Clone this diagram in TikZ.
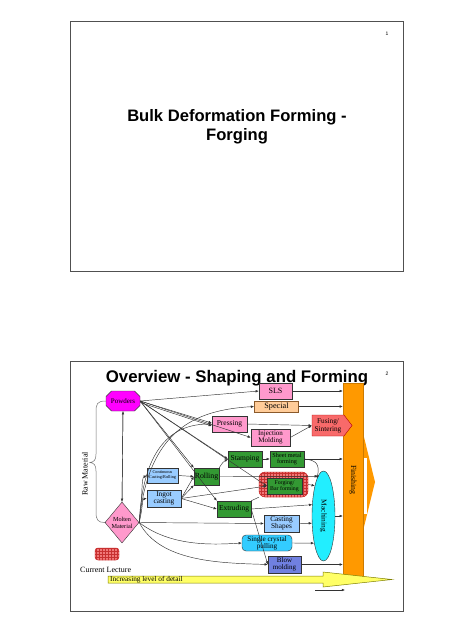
\documentclass[tikz,border=0pt]{standalone}
\usepackage{fontspec}
\setmainfont{Liberation Serif}
\newfontfamily\arialf{Liberation Sans}
\usetikzlibrary{shapes.geometric,shapes.misc,shapes.symbols,patterns,arrows.meta}
\newcommand\myfs[1]{\fontsize{#1}{#1}\selectfont}
\newcommand\mytwo[2]{\fontsize{#1}{#2}\selectfont}
\definecolor{pinkc}{HTML}{FF99CC}
\definecolor{magc}{HTML}{FF00FF}
\definecolor{peachc}{HTML}{FFCC99}
\definecolor{peachd}{HTML}{8B5A2B}
\definecolor{salmonc}{HTML}{F86A6A}
\definecolor{greenc}{HTML}{339933}
\definecolor{lbluec}{HTML}{99CCFF}
\definecolor{scpc}{HTML}{33CCFF}
\definecolor{machc}{HTML}{22EEFF}
\definecolor{orangec}{HTML}{FF9900}
\definecolor{blowc}{HTML}{7080E0}
\definecolor{yellowc}{HTML}{FFFF66}
\definecolor{olivec}{HTML}{808000}
\definecolor{lecred}{HTML}{F07878}
\definecolor{lecgrid}{HTML}{C83030}
\definecolor{framec}{HTML}{505050}
\tikzset{
  frame/.style={draw=framec, line width=1pt},
  box/.style={draw=black!80, line width=0.4pt, inner sep=0pt, align=center, font=\myfs{7.4}},
  arr/.style={draw=black!80, line width=0.45pt, -{Latex[length=3.2pt,width=2.6pt]}},
  ln/.style={draw=black!80, line width=0.45pt},
  hatchred/.style={fill=lecred, draw=red!75!black, postaction={pattern=grid, pattern color=lecgrid}},
}
\begin{document}
\begin{tikzpicture}[x=1pt,y=-1pt]
\useasboundingbox (0,0) rectangle (474,632);
\fill[white] (0,0) rectangle (474,632);

% ---------- slide 1 ----------
\draw[frame] (70,21) rectangle (403,271);
\node[font=\arialf\myfs{5}, inner sep=0pt] (p1) at (387,34) {1};
\node[font=\arialf\bfseries\fontsize{16.6}{19.3}\selectfont, align=center, inner sep=0pt] (t1) at (237,127) {Bulk Deformation Forming -\\Forging};

% ---------- slide 2 ----------
\draw[frame] (70,361) rectangle (403,611);
\node[font=\arialf\myfs{5}, inner sep=0pt] (p2) at (387,374) {2};
\node[font=\arialf\bfseries\myfs{16.8}, inner sep=0pt, anchor=base] (t2) at (237,382) {Overview - Shaping and Forming};

% Finishing block arrow
\fill[orangec] (363,433) -- (375,482) -- (363,531) -- cycle;
\fill[white] (363.8,458) rectangle (366.6,514);
\node[draw=orangec!80!black, line width=0.3pt, fill=orangec, minimum width=20pt, minimum height=194pt, inner sep=0pt,
  label={[rotate=-90, font=\myfs{7.8}]center:Finishing}] (fin) at (353,480) {};

% nodes
\node[box, chamfered rectangle, chamfered rectangle xsep=5pt, fill=magc, minimum width=34pt, minimum height=20pt, font=\myfs{7}] (pow) at (123,401) {Powders};
\node[box, diamond, fill=pinkc, minimum width=34pt, minimum height=41pt, font=\mytwo{6.2}{6.8}] (molt) at (122,522.5) {Molten\\Material};
\node[box, fill=pinkc, minimum width=33pt, minimum height=16pt, font=\myfs{8}] (sls) at (275.5,391) {SLS};
\node[box, draw=peachd, line width=0.9pt, fill=peachc, minimum width=44pt, minimum height=11pt, font=\myfs{8.2}] (spec) at (276.5,406.5) {Special};
\node[box, fill=pinkc, minimum width=35pt, minimum height=16pt, font=\myfs{7.5}] (press) at (229.5,424) {Pressing};
\node[box, fill=pinkc, minimum width=39pt, minimum height=17pt, font=\mytwo{7}{7.4}] (inj) at (270.5,437.5) {Injection\\Molding};
\node[box, signal, signal to=east, signal pointer angle=105, fill=salmonc, draw=red!70!black, minimum width=40pt, minimum height=21pt, font=\mytwo{7.3}{7.8}] (fus) at (328,425.5) {Fusing/\\Sintering};
\node[box, fill=greenc, minimum width=34pt, minimum height=16pt, font=\myfs{7.5}] (stamp) at (245,459) {Stamping};
\node[box, fill=greenc, minimum width=34pt, minimum height=16pt, font=\mytwo{6.2}{6.6}] (sheet) at (287,459) {Sheet metal\\forming};
\node[box, fill=lbluec, minimum width=31pt, minimum height=15pt, font=\mytwo{4.3}{5}] (cont) at (162.5,475.5) {Continuous\\Casting/Rolling};
\node[box, fill=greenc, minimum width=25pt, minimum height=17pt, font=\myfs{7.8}] (roll) at (206.5,476.5) {Rolling};
\node[hatchred, rounded corners=6pt, minimum width=49pt, minimum height=25pt, inner sep=0pt] (forgeo) at (283.5,484.5) {};
\node[box, fill=greenc, minimum width=35pt, minimum height=16pt, font=\mytwo{5.8}{6.4}] (forge) at (284.5,486) {Forging/\\Bar forming};
\node[box, fill=lbluec, minimum width=34pt, minimum height=17pt, font=\mytwo{7.3}{7.6}] (ingot) at (164,498.5) {Ingot\\casting};
\node[box, fill=greenc, minimum width=34pt, minimum height=16pt, font=\myfs{7.5}] (extr) at (234,509) {Extruding};
\node[box, fill=lbluec, minimum width=35pt, minimum height=17pt, font=\mytwo{7.3}{7.6}] (cshape) at (281.5,523.5) {Casting\\Shapes};
\node[box, fill=scpc, rounded corners=4pt, minimum width=50pt, minimum height=16pt, font=\mytwo{7.2}{7.4}] (scp) at (267,543) {Single crystal\\pulling};
\node[box, fill=blowc, minimum width=33pt, minimum height=17pt, font=\mytwo{7}{7.4}] (blow) at (284.5,564.5) {Blow\\molding};
\node[draw=black!80, line width=0.4pt, ellipse, fill=machc, minimum width=23pt, minimum height=90pt, inner sep=0pt,
  label={[rotate=-90, font=\myfs{7.4}]center:Machining}] (mach) at (323.5,516) {};

% raw material brace
\draw[draw=black!55, line width=0.5pt] (pow.west) .. controls (97,401) and (96,404) .. (96,412) -- (96,454)
  .. controls (96,460) and (94,462) .. (90,462.5) .. controls (94,463) and (96,465) .. (96,471) -- (96,512)
  .. controls (96,520) and (98,522.5) .. (molt.west);
\node[rotate=90, font=\myfs{8}, inner sep=0pt] (raw) at (85,474) {Raw Material};

% connectors from Powders
\draw[arr] (pow.south) -- (molt.north);
\draw[arr] (molt.north) -- (pow.south);
\draw[arr] (pow.east) -- (sls.west);
\draw[arr] (pow.east) -- ([yshift=1pt]press.west);
\draw[arr] ([yshift=-1.5pt]pow.east) -- ([yshift=-2pt]press.west);
\draw[arr] (pow.east) -- (inj.west);
\draw[arr] (pow.east) -- (stamp.west);
\draw[arr] (pow.east) -- (forge.west);
\draw[arr] (pow.east) -- (extr.north west);
\draw[arr] (pow.east) -- (roll.north west);

% connectors from Molten Material
\draw[arr] (molt.east) .. controls (143,495) and (141,478) .. (cont.west);
\draw[arr] (molt.east) .. controls (143,507) and (142,499) .. (ingot.west);
\draw[arr] (molt.east) -- (cshape.west);
\draw[arr] (molt.east) .. controls (170,546) and (210,545) .. (scp.west);
\draw[arr] (molt.east) .. controls (160,562) and (220,563) .. (blow.west);
\draw[arr] (molt.east) .. controls (148,430) and (195,410) .. (spec.west);
\draw[arr] (molt.east) .. controls (143,450) and (170,424) .. (press.west);

% casting / rolling
\draw[arr] (cont.east) -- (roll.west);
\draw[arr] (ingot.east) -- (roll.south west);
\draw[arr] (ingot.east) -- (roll.west);
\draw[arr] (ingot.east) -- (extr.west);
\draw[arr] (ingot.east) -- (forge.west);
\draw[arr] (roll.north east) .. controls (223,462) .. (stamp.west);
\draw[arr] (roll.east) -- (mach.98);
\draw[arr] (stamp.east) -- (sheet.west);
\draw[ln] (extr.north east) -- (forgeo.south west);
\draw[arr] (extr.east) -- (blow.west);
\draw[arr] (extr.east) -- (mach.135);
\draw[arr] (forgeo.east) -- (mach.106);
\draw[arr] (cshape.east) -- (mach.212);
\draw[arr] (scp.east) -- (mach.251);
\draw[arr] (sheet.east) .. controls (316,460) and (320,464) .. (mach.100);

% pressing / fusing
\draw[arr] (press.east) -- (fus.west);
\draw[arr] (inj.east) -- (fus.west);

% to finishing
\draw[arr] (sls.east) -- (sls.east -| fin.west);
\draw[arr] (spec.east) -- (spec.east -| fin.west);
\draw[arr] (sheet.east) -- (sheet.east -| fin.west);
\draw[arr] (mach.east) -- (mach.east -| fin.west);
\draw[arr] (blow.east) -- (blow.east -| fin.west);

% legend
\node[hatchred, rounded corners=3pt, minimum width=24pt, minimum height=12pt, inner sep=0pt] (cl) at (107,554) {};
\node[anchor=west, font=\myfs{8}, inner sep=0pt] (cltext) at (80,570) {Current Lecture};

% increasing level of detail arrow
\filldraw[fill=yellowc, draw=olivec, line width=0.5pt] (108,576) -- (323,576) -- (323,572) -- (392,579.5) -- (323,587) -- (323,583) -- (108,583) -- cycle;
\node[anchor=west, font=\myfs{7.3}, inner sep=0pt] (inc) at (110,579.5) {Increasing level of detail};

% small arrow
\coordinate (sa) at (315,590);
\coordinate (sb) at (345,590);
\draw[arr] (sa) -- (sb);
\end{tikzpicture}
\end{document}
